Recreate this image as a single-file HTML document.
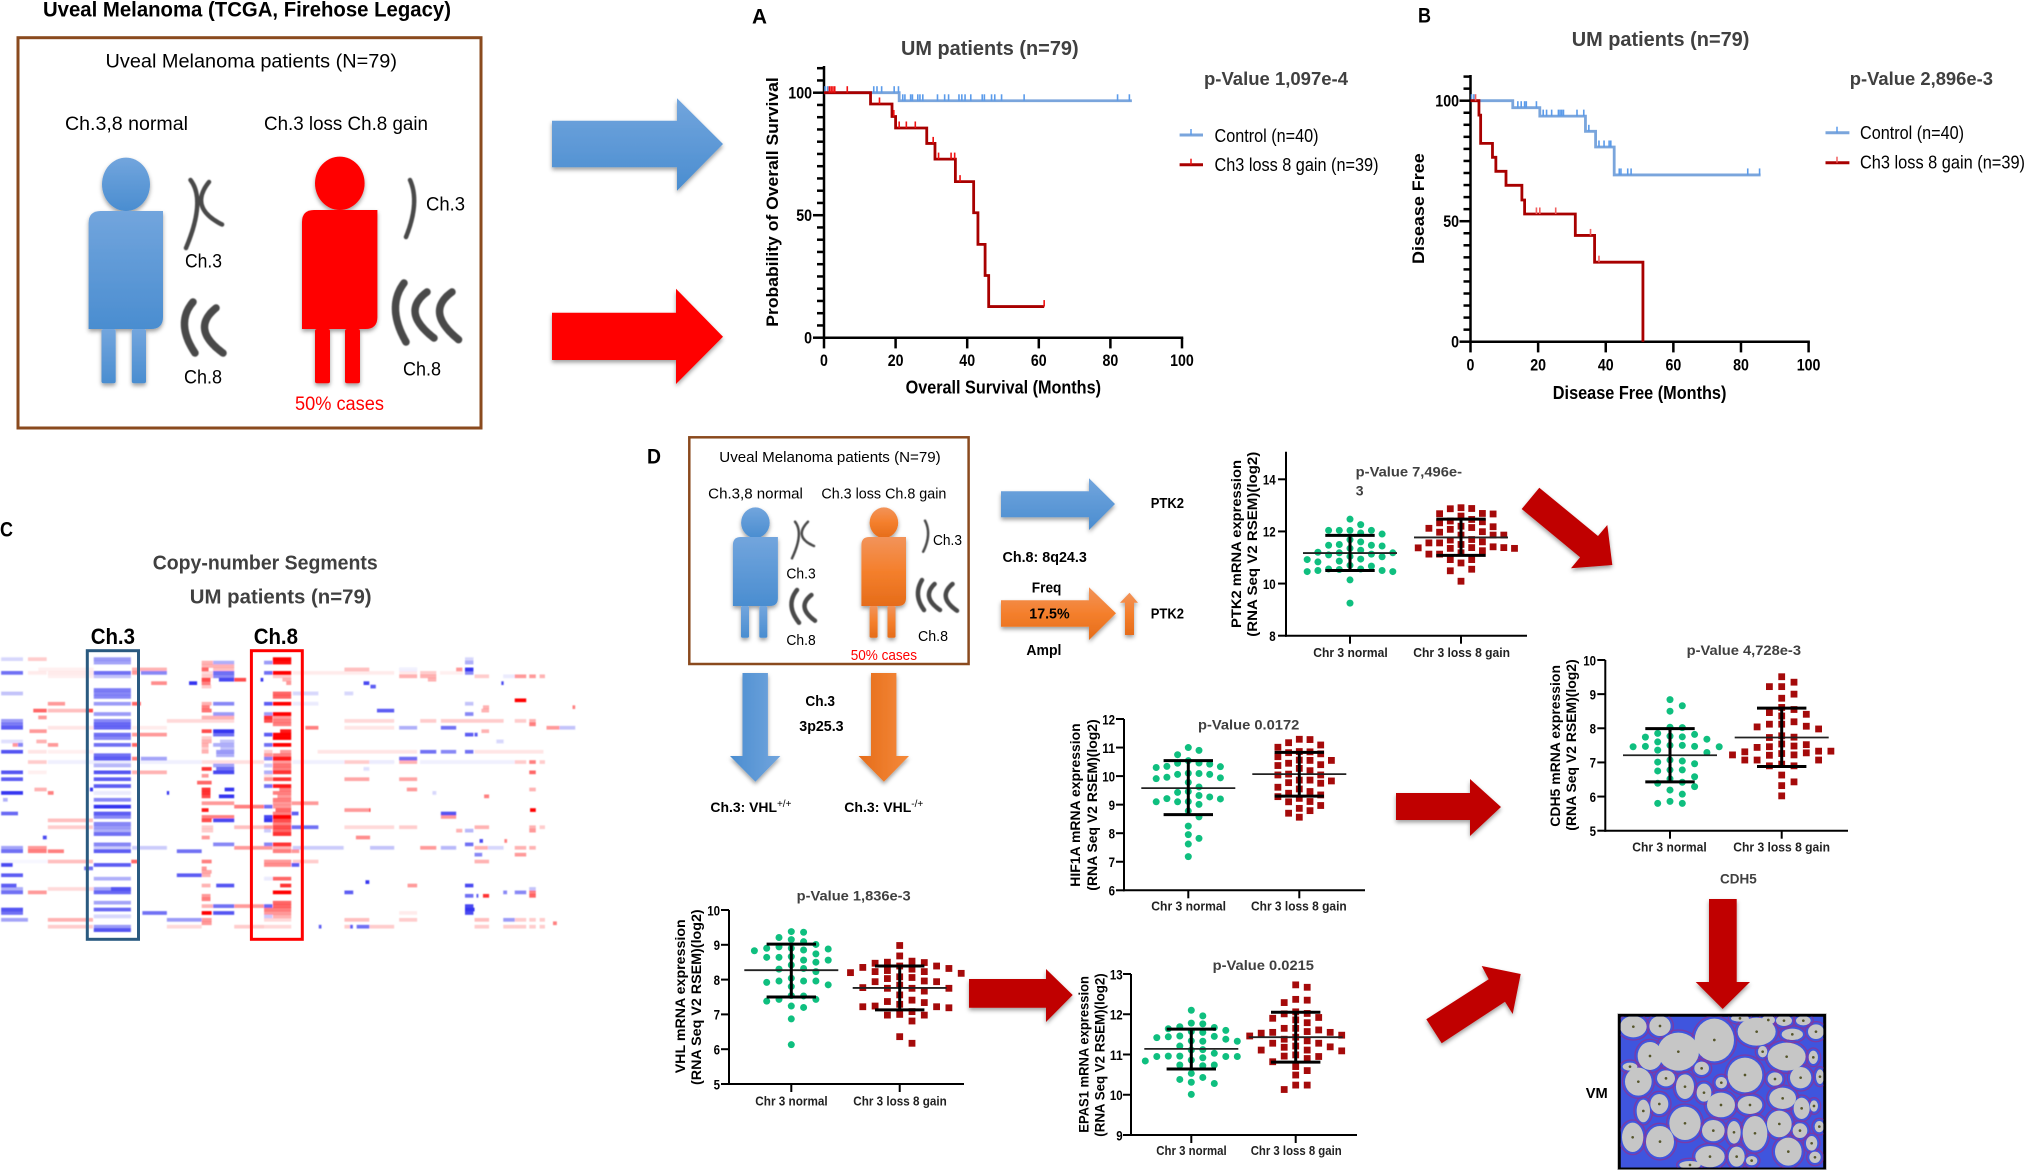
<!DOCTYPE html>
<html lang="en">
<head>
<meta charset="utf-8">
<title>Uveal Melanoma copy-number figure</title>
<style>
html,body{margin:0;padding:0;background:#fff;width:2025px;height:1172px;overflow:hidden}
svg{display:block}
text{font-family:"Liberation Sans",sans-serif}
.b{font-weight:700}
.g{fill:#404040;font-weight:700}
</style>
</head>
<body>
<svg id="figure" xmlns="http://www.w3.org/2000/svg" width="2025" height="1172" viewBox="0 0 2025 1172">
<defs>
<linearGradient id="blueV" x1="0" y1="0" x2="0" y2="1"><stop offset="0" stop-color="#72a5dd"/><stop offset="1" stop-color="#4a8dd0"/></linearGradient>
<linearGradient id="blueH" x1="0" y1="0" x2="1" y2="0"><stop offset="0" stop-color="#4a8dd0"/><stop offset="1" stop-color="#72a5dd"/></linearGradient>
<linearGradient id="orangeV" x1="0" y1="0" x2="0" y2="1"><stop offset="0" stop-color="#f2935a"/><stop offset=".5" stop-color="#f47f2c"/><stop offset="1" stop-color="#e56c1a"/></linearGradient>
<linearGradient id="orangeH" x1="0" y1="0" x2="1" y2="0"><stop offset="0" stop-color="#e56c1a"/><stop offset="1" stop-color="#f58a3a"/></linearGradient>
<filter id="sh" x="-20%" y="-20%" width="140%" height="140%"><feDropShadow dx="0" dy="2.5" stdDeviation="2" flood-color="#000" flood-opacity=".38"/></filter>
<filter id="blur1" x="-10%" y="-10%" width="120%" height="120%"><feGaussianBlur stdDeviation=".6"/></filter>
<filter id="blur2" x="-2%" y="-2%" width="104%" height="104%"><feGaussianBlur stdDeviation=".5"/></filter>
<clipPath id="vmClip"><rect x="182" y="350" width="608" height="453"/></clipPath>
</defs>

<!-- Top-left overview -->
<text class="b" x="43" y="16.7" font-size="21" textLength="408" lengthAdjust="spacingAndGlyphs">Uveal Melanoma (TCGA, Firehose Legacy)</text>
<rect x="18" y="37.7" width="463" height="390.3" fill="#fff" stroke="#8a4a1e" stroke-width="3"/>
<text x="105.5" y="67.3" font-size="19" textLength="291.5" lengthAdjust="spacingAndGlyphs">Uveal Melanoma patients (N=79)</text>
<text x="65" y="130" font-size="19" textLength="123" lengthAdjust="spacingAndGlyphs">Ch.3,8 normal</text>
<text x="264" y="130" font-size="19" textLength="164" lengthAdjust="spacingAndGlyphs">Ch.3 loss Ch.8 gain</text>

<g fill="url(#blueV)" filter="url(#sh)">
<ellipse cx="126" cy="184.3" rx="24" ry="26.7"/>
<path d="M100.6,211H163V317Q163,329 151,329H88.6V223Q88.6,211 100.6,211Z"/>
<rect x="101.5" y="329" width="14.2" height="54.3" rx="2"/>
<rect x="131.8" y="329" width="14.2" height="54.3" rx="2"/>
</g>
<g fill="#ff0000" filter="url(#sh)">
<ellipse cx="339.8" cy="183.3" rx="24.8" ry="26.7"/>
<path d="M314,210H377.4V317Q377.4,329 365.4,329H302V222Q302,210 314,210Z"/>
<rect x="315" y="329" width="15" height="54.3" rx="2"/>
<rect x="345" y="329" width="15" height="54.3" rx="2"/>
</g>
<g fill="none" stroke="#4a4a4a" stroke-dasharray="4 1" stroke-linecap="round" filter="url(#blur1)">
<path stroke-width="4.5" d="M190.5,180Q206,200 186,248M209,182Q188,208 223,225"/>
<path stroke-width="7.5" d="M193,302Q175,323 195,353M216,308Q190,329 223,353"/>
<path stroke-width="4.5" d="M410,180Q420,202 406,237"/>
<path stroke-width="7.5" d="M404,283Q386,307 406,342M427,292Q400,312 434,338M452,292Q424,312 459,340"/>
</g>
<text x="185" y="267.7" font-size="19" textLength="37" lengthAdjust="spacingAndGlyphs">Ch.3</text>
<text x="184" y="383.3" font-size="19" textLength="38" lengthAdjust="spacingAndGlyphs">Ch.8</text>
<text x="426" y="210.7" font-size="19" textLength="39" lengthAdjust="spacingAndGlyphs">Ch.3</text>
<text x="403" y="375.7" font-size="19" textLength="38" lengthAdjust="spacingAndGlyphs">Ch.8</text>
<text x="295" y="410" font-size="19" fill="#ff0000" textLength="89" lengthAdjust="spacingAndGlyphs">50% cases</text>

<path d="M552,120.7H677V98.3L723,144L677,190.7V167.3H552Z" fill="url(#blueV)" filter="url(#sh)"/>
<path d="M552,312.7H676V288.7L723,336.7L676,384V360H552Z" fill="#ff0000" filter="url(#sh)"/>

<!-- Panel A -->
<text class="b" x="752" y="23.3" font-size="21" textLength="15" lengthAdjust="spacingAndGlyphs">A</text>
<text class="g" x="901" y="55" font-size="20" textLength="177.6" lengthAdjust="spacingAndGlyphs">UM patients (n=79)</text>
<text class="g" x="1204" y="85" font-size="18.5" textLength="144" lengthAdjust="spacingAndGlyphs">p-Value 1,097e-4</text>
<text class="b" transform="translate(778,326.7) rotate(-90)" font-size="17" textLength="249.4" lengthAdjust="spacingAndGlyphs">Probability of Overall Survival</text>
<text class="b" x="905.6" y="393.3" font-size="18.5" textLength="195.4" lengthAdjust="spacingAndGlyphs">Overall Survival (Months)</text>
<g>
<line x1="1179.6" x2="1203" y1="135" y2="135" stroke="#7aa5dc" stroke-width="3"/><line x1="1191" x2="1191" y1="129" y2="135" stroke="#5b9bea" stroke-width="1.5"/>
<text x="1214.5" y="142" font-size="18.5" textLength="104" lengthAdjust="spacingAndGlyphs">Control (n=40)</text>
<line x1="1179.6" x2="1203" y1="164.7" y2="164.7" stroke="#a80000" stroke-width="3"/><line x1="1191" x2="1191" y1="158.7" y2="164.7" stroke="#f01010" stroke-width="1.5"/>
<text x="1214.5" y="171" font-size="18.5" textLength="164" lengthAdjust="spacingAndGlyphs">Ch3 loss 8 gain (n=39)</text>
</g>
<g id="panelA"></g>

<!-- Panel B -->
<text class="b" x="1418" y="22.7" font-size="21" textLength="13" lengthAdjust="spacingAndGlyphs">B</text>
<text class="g" x="1571.7" y="46" font-size="20" textLength="177.7" lengthAdjust="spacingAndGlyphs">UM patients (n=79)</text>
<text class="g" x="1849.8" y="85" font-size="18.5" textLength="143.2" lengthAdjust="spacingAndGlyphs">p-Value 2,896e-3</text>
<text class="b" transform="translate(1424,264) rotate(-90)" font-size="17" textLength="110.7" lengthAdjust="spacingAndGlyphs">Disease Free</text>
<text class="b" x="1552.8" y="399" font-size="18.5" textLength="173.6" lengthAdjust="spacingAndGlyphs">Disease Free (Months)</text>
<g>
<line x1="1825.5" x2="1849.4" y1="132.7" y2="132.7" stroke="#7aa5dc" stroke-width="3"/><line x1="1837" x2="1837" y1="126.7" y2="132.7" stroke="#5b9bea" stroke-width="1.5"/>
<text x="1860" y="139" font-size="18.5" textLength="104" lengthAdjust="spacingAndGlyphs">Control (n=40)</text>
<line x1="1825.5" x2="1849.4" y1="162.7" y2="162.7" stroke="#a80000" stroke-width="3"/><line x1="1837" x2="1837" y1="156.7" y2="162.7" stroke="#f06060" stroke-width="1.5"/>
<text x="1860" y="168.7" font-size="18.5" textLength="165" lengthAdjust="spacingAndGlyphs">Ch3 loss 8 gain (n=39)</text>
</g>
<g id="panelB"></g>

<!-- Panel C -->
<text class="b" x="0" y="536.7" font-size="21" textLength="13" lengthAdjust="spacingAndGlyphs">C</text>
<text class="g" x="152.7" y="569.3" font-size="20" textLength="225" lengthAdjust="spacingAndGlyphs">Copy-number Segments</text>
<text class="g" x="189.8" y="603.3" font-size="20" textLength="181.8" lengthAdjust="spacingAndGlyphs">UM patients (n=79)</text>
<text class="b" x="90.7" y="644" font-size="22" textLength="44.3" lengthAdjust="spacingAndGlyphs">Ch.3</text>
<text class="b" x="253.7" y="644" font-size="22" textLength="44.3" lengthAdjust="spacingAndGlyphs">Ch.8</text>
<g id="heatmap" filter="url(#blur2)"></g>
<rect x="87.3" y="650.7" width="51.2" height="288.6" fill="none" stroke="#2a5a80" stroke-width="3"/>
<rect x="251.4" y="650.7" width="50.9" height="288.6" fill="none" stroke="#ff0000" stroke-width="3"/>

<!-- Panel D schematic -->
<text class="b" x="647" y="463.3" font-size="21" textLength="14" lengthAdjust="spacingAndGlyphs">D</text>
<rect x="689.3" y="437.3" width="279.3" height="226.7" fill="#fff" stroke="#8a4a1e" stroke-width="2.5"/>
<text x="719.3" y="462" font-size="14.5" textLength="221.4" lengthAdjust="spacingAndGlyphs">Uveal Melanoma patients (N=79)</text>
<text x="708.2" y="498.3" font-size="14.5" textLength="94.7" lengthAdjust="spacingAndGlyphs">Ch.3,8 normal</text>
<text x="821.4" y="498.3" font-size="14.5" textLength="125" lengthAdjust="spacingAndGlyphs">Ch.3 loss Ch.8 gain</text>
<g fill="url(#blueV)" filter="url(#sh)">
<ellipse cx="755.4" cy="522.7" rx="14.3" ry="15.3"/>
<path d="M740.9,537H777.9V598Q777.9,606 769.9,606H732.9V545Q732.9,537 740.9,537Z"/>
<rect x="741" y="606" width="8" height="31.7" rx="1.5"/><rect x="759.3" y="606" width="8" height="31.7" rx="1.5"/>
</g>
<g fill="url(#orangeV)" filter="url(#sh)">
<ellipse cx="883.9" cy="522.7" rx="14.3" ry="15.3"/>
<path d="M869.4,537H906V598Q906,606 898,606H861.4V545Q861.4,537 869.4,537Z"/>
<rect x="869.6" y="606" width="8" height="31.7" rx="1.5"/><rect x="887.5" y="606" width="8" height="31.7" rx="1.5"/>
</g>
<g fill="none" stroke="#4a4a4a" stroke-linecap="round" stroke-dasharray="3 .8" filter="url(#blur1)">
<path stroke-width="2.5" d="M795,521.7Q804,533 792,558.3M808,521.7Q793,537 814,546"/>
<path stroke-width="4.5" d="M797,590Q785,605 799,622.7M811.4,595Q796,607 815,620.7"/>
<path stroke-width="2.5" d="M925,520.7Q932,534 923.2,551.7"/>
<path stroke-width="4.5" d="M922,580Q913,595 924,610M934.6,584Q921,597 940,610M952.5,584Q937,597 957,610.7"/>
</g>
<text x="786.4" y="578.3" font-size="14.5" textLength="29.3" lengthAdjust="spacingAndGlyphs">Ch.3</text>
<text x="786.4" y="645" font-size="14.5" textLength="29.3" lengthAdjust="spacingAndGlyphs">Ch.8</text>
<text x="933" y="545" font-size="14.5" textLength="29" lengthAdjust="spacingAndGlyphs">Ch.3</text>
<text x="918" y="641" font-size="14.5" textLength="30" lengthAdjust="spacingAndGlyphs">Ch.8</text>
<text x="850.7" y="660" font-size="14.5" fill="#ff0000" textLength="66.3" lengthAdjust="spacingAndGlyphs">50% cases</text>

<path d="M1001,491.3H1089V478.3L1115,504L1089,530V517.3H1001Z" fill="url(#blueV)" filter="url(#sh)"/>
<text class="b" x="1150.7" y="508" font-size="14.5" textLength="33.3" lengthAdjust="spacingAndGlyphs">PTK2</text>
<text class="b" x="1002.5" y="562" font-size="14.5" textLength="84.3" lengthAdjust="spacingAndGlyphs">Ch.8: 8q24.3</text>
<text class="b" x="1031.8" y="592.7" font-size="14.5" textLength="29.6" lengthAdjust="spacingAndGlyphs">Freq</text>
<path d="M1001,600.3H1089V587.3L1116,613.3L1089,640V626.7H1001Z" fill="url(#orangeV)" filter="url(#sh)"/>
<text class="b" x="1029.3" y="618.3" font-size="14.5" textLength="40.3" lengthAdjust="spacingAndGlyphs">17.5%</text>
<text class="b" x="1026.4" y="655" font-size="14.5" textLength="35" lengthAdjust="spacingAndGlyphs">Ampl</text>
<path d="M1125,635V602.7H1120L1129.5,592.7L1138,602.7H1134V635Z" fill="url(#orangeV)" filter="url(#sh)"/>
<text class="b" x="1150.7" y="618.7" font-size="14.5" textLength="33.3" lengthAdjust="spacingAndGlyphs">PTK2</text>

<path d="M742.5,673H767.9V756H780.4L755.4,781.7L730,756H742.5Z" fill="url(#blueH)" filter="url(#sh)"/>
<path d="M871,673H896.4V756H909L883.9,781.7L858.6,756H871Z" fill="url(#orangeH)" filter="url(#sh)"/>
<text class="b" x="805.4" y="706" font-size="14.5" textLength="29.6" lengthAdjust="spacingAndGlyphs">Ch.3</text>
<text class="b" x="799.3" y="731" font-size="14.5" textLength="44.3" lengthAdjust="spacingAndGlyphs">3p25.3</text>
<text class="b" x="710.4" y="812" font-size="14" textLength="81" lengthAdjust="spacingAndGlyphs">Ch.3: VHL<tspan dy="-5" font-size="10" font-weight="400">+/+</tspan></text>
<text class="b" x="844.3" y="812" font-size="14" textLength="79" lengthAdjust="spacingAndGlyphs">Ch.3: VHL<tspan dy="-5" font-size="10" font-weight="400">-/+</tspan></text>

<!-- Dark red flow arrows -->
<g fill="#c00000" filter="url(#sh)">
<path d="M1539.3,487.7L1598,536L1607.3,525L1612.3,565L1571,568.3L1580.1,557.2L1521.7,509Z"/>
<path d="M1396,793H1470V779L1501,807L1470,836V820H1396Z"/>
<path d="M969,979H1046V969L1072.7,995L1046,1022V1007.7H969Z"/>
<path d="M1426.3,1019.3L1488.7,979.3L1481.7,966L1520.7,974L1512.7,1014L1505,1001.7L1441.7,1043.3Z"/>
<path d="M1709,899H1736.7V982H1750L1722.7,1009L1695.7,982H1709Z"/>
</g>

<!-- Scatter panels -->
<g id="scatterPtk2"></g>
<g id="scatterCdh5"></g>
<g id="scatterHif1a"></g>
<g id="scatterVhl"></g>
<g id="scatterEpas1"></g>

<text class="g" x="1355.7" y="476.7" font-size="14" textLength="106.3" lengthAdjust="spacingAndGlyphs">p-Value 7,496e-</text>
<text class="g" x="1355.7" y="495.7" font-size="14">3</text>
<text class="g" x="1686.7" y="655" font-size="14" textLength="114.3" lengthAdjust="spacingAndGlyphs">p-Value 4,728e-3</text>
<text class="g" x="1720" y="883.3" font-size="14" textLength="36.7" lengthAdjust="spacingAndGlyphs">CDH5</text>
<text class="g" x="1198" y="729.3" font-size="14" textLength="101.3" lengthAdjust="spacingAndGlyphs">p-Value 0.0172</text>
<text class="g" x="796.7" y="900.7" font-size="14" textLength="114" lengthAdjust="spacingAndGlyphs">p-Value 1,836e-3</text>
<text class="g" x="1212.7" y="970" font-size="14" textLength="101.3" lengthAdjust="spacingAndGlyphs">p-Value 0.0215</text>

<!-- VM image -->
<text class="b" x="1585.7" y="1098" font-size="15" textLength="22" lengthAdjust="spacingAndGlyphs">VM</text>
<g transform="translate(1560,900) scale(.3333)">
<rect x="173" y="341" width="626" height="468" fill="#000" stroke="#aaa" stroke-width="2"/>
<g clip-path="url(#vmClip)">
<rect x="182" y="350" width="608" height="453" fill="#3f55de"/>
<g id="vmCells"></g>
</g>
</g>
</svg>

<script>
// ----- Survival data (months / % surviving) -----
const osControlMonths = [0, 21, 86];
const osControlSurvival = [100, 96.7, 96.7];
const osControlCensored = [0.3, 1, 13.9, 14.8, 16.1, 19.6, 20.8, 22, 22.6, 24.2, 24.7, 26.2, 26.8, 27.6, 31.7, 33.7, 34.8, 37.7, 38.5, 39.4, 41, 44.2, 44.8, 46.8, 47.7, 49.6, 55.9, 82, 85.3];
const osGainMonths = [0, 13, 19, 20, 28.7, 31, 36.7, 41.8, 43, 45, 46, 61.5];
const osGainSurvival = [100, 95.4, 90.3, 85.6, 79.3, 72.9, 63.7, 51, 38.1, 25.4, 12.7, 12.7];
const osGainCensored = [1.5, 2, 2.5, 3, 6.5, 15.5, 19.5, 21, 23, 25.5, 30.5, 32, 35.5, 36.5, 38, 61.5];
const dfControlMonths = [0, 12.5, 20.5, 34, 37, 42.5, 85.8];
const dfControlSurvival = [100, 97.1, 93.6, 87.3, 80.8, 69.2, 69.2];
const dfControlCensored = [0.3, 1, 14, 15, 16, 16.5, 19.5, 21.5, 22.5, 24, 26, 26.5, 27, 27.5, 31.5, 33.5, 35, 38, 39.5, 41, 41.5, 44, 44.5, 46.5, 47.5, 82, 85.5];
const dfGainMonths = [0, 2.5, 3, 6.5, 7.5, 10.5, 15.2, 16, 31, 36.7, 51];
const dfGainSurvival = [100, 94, 82.3, 76.5, 70.7, 64.9, 58.8, 53, 44.1, 33, 0];
const dfGainCensored = [1.5, 19.5, 20.5, 25.2, 35.5, 38];
const survivalXTicks = [0, 20, 40, 60, 80, 100];
const survivalYMajorTicks = [0, 50, 100];
const survivalYMinorTicks = [5, 10, 15, 20, 25, 30, 35, 40, 45, 55, 60, 65, 70, 75, 80, 85, 90, 95, 105, 110];

// ----- Expression data (log2 RSEM) -----
const ptk2Normal = [12.47, 12.26, 12.04, 12.04, 12.04, 12.04, 11.94, 11.9, 11.68, 11.6, 11.5, 11.47, 11.47, 11.44, 11.35, 11.28, 11.2, 11.18, 11.18, 11.13, 11.1, 11.04, 11.03, 10.94, 10.92, 10.86, 10.83, 10.7, 10.67, 10.56, 10.56, 10.54, 10.5, 10.5, 10.46, 10.46, 10.14, 9.25];
const ptk2Gain = [12.91, 12.88, 12.87, 12.69, 12.68, 12.67, 12.59, 12.46, 12.4, 12.37, 12.33, 12.2, 12.18, 12.15, 12.12, 12.08, 11.99, 11.97, 11.86, 11.86, 11.86, 11.69, 11.67, 11.6, 11.56, 11.56, 11.5, 11.41, 11.38, 11.38, 11.37, 11.35, 11.35, 11.26, 11.18, 11.13, 11.13, 10.92, 10.92, 10.79, 10.55, 10.49, 10.09];
const cdh5Normal = [8.84, 8.66, 8.5, 8.03, 8.02, 7.85, 7.82, 7.77, 7.75, 7.74, 7.68, 7.6, 7.5, 7.5, 7.47, 7.47, 7.46, 7.46, 7.36, 7.29, 7.07, 7.04, 7.01, 6.96, 6.78, 6.78, 6.75, 6.58, 6.52, 6.42, 6.39, 6.29, 6.19, 6.07, 5.86, 5.8, 5.8];
const cdh5Gain = [9.51, 9.35, 9.22, 9.22, 9.0, 8.88, 8.61, 8.55, 8.46, 8.41, 8.36, 8.19, 8.12, 8.12, 8.06, 8.04, 7.98, 7.78, 7.74, 7.73, 7.54, 7.52, 7.48, 7.46, 7.44, 7.33, 7.31, 7.33, 7.26, 7.28, 7.22, 7.21, 7.22, 7.07, 7.07, 7.07, 6.95, 6.9, 6.9, 6.63, 6.43, 6.32, 6.02];
const hif1aNormal = [11.0, 10.9, 10.75, 10.54, 10.46, 10.45, 10.42, 10.34, 10.33, 10.3, 10.1, 10.09, 10.06, 10.06, 9.96, 9.94, 9.91, 9.78, 9.62, 9.46, 9.43, 9.32, 9.27, 9.21, 9.2, 9.11, 9.1, 9.1, 9.01, 8.78, 8.57, 8.25, 7.95, 7.82, 7.62, 7.18];
const hif1aGain = [11.29, 11.28, 11.17, 11.09, 11.01, 10.86, 10.85, 10.82, 10.78, 10.68, 10.56, 10.55, 10.55, 10.45, 10.4, 10.37, 10.27, 10.19, 10.07, 10.04, 10.04, 9.86, 9.86, 9.83, 9.77, 9.75, 9.61, 9.55, 9.46, 9.4, 9.34, 9.28, 9.22, 9.11, 9.1, 8.97, 8.87, 8.79, 8.7, 8.56];
const vhlNormal = [9.38, 9.36, 9.21, 9.15, 9.09, 9.01, 8.94, 8.9, 8.9, 8.88, 8.85, 8.83, 8.74, 8.66, 8.64, 8.64, 8.56, 8.56, 8.5, 8.42, 8.32, 8.3, 8.23, 8.04, 7.96, 7.96, 7.96, 7.92, 7.85, 7.8, 7.54, 7.53, 7.43, 7.43, 7.38, 7.24, 7.2, 6.87, 6.13];
const vhlGain = [8.98, 8.68, 8.53, 8.5, 8.49, 8.47, 8.39, 8.39, 8.35, 8.32, 8.3, 8.26, 8.23, 8.23, 8.2, 8.18, 8.08, 8.06, 8.03, 7.96, 7.94, 7.94, 7.84, 7.75, 7.75, 7.77, 7.75, 7.67, 7.56, 7.41, 7.37, 7.34, 7.29, 7.24, 7.22, 7.22, 7.19, 7.08, 7.0, 6.98, 6.98, 6.81, 6.36, 6.17];
const epas1Normal = [12.1, 11.96, 11.78, 11.76, 11.69, 11.67, 11.64, 11.6, 11.57, 11.55, 11.46, 11.45, 11.44, 11.42, 11.38, 11.34, 11.33, 11.33, 11.21, 11.11, 11.12, 11.03, 10.96, 10.96, 10.95, 10.95, 10.95, 10.92, 10.86, 10.84, 10.74, 10.72, 10.74, 10.53, 10.43, 10.38, 10.31, 10.28, 10.01];
const epas1Gain = [12.73, 12.67, 12.37, 12.35, 12.29, 12.06, 12.02, 12.01, 11.92, 11.9, 11.86, 11.79, 11.65, 11.65, 11.61, 11.57, 11.55, 11.55, 11.53, 11.48, 11.46, 11.43, 11.38, 11.34, 11.28, 11.28, 11.21, 11.19, 11.18, 11.11, 11.11, 11.09, 10.99, 10.96, 10.95, 10.9, 10.82, 10.7, 10.6, 10.49, 10.24, 10.24, 10.13];

const ptk2Ticks = [8, 10, 12, 14];
const cdh5Ticks = [5, 6, 7, 8, 9, 10];
const hif1aTicks = [6, 7, 8, 9, 10, 11, 12];
const vhlTicks = [5, 6, 7, 8, 9, 10];
const epas1Ticks = [9, 10, 11, 12, 13];
const scatterCategories = ['Chr 3 normal', 'Chr 3 loss 8 gain'];
// mean, mean+SD, mean-SD for normal then gain
const ptk2Summary = [[11.17, 11.85, 10.5], [11.77, 12.47, 11.08]];
const cdh5Summary = [[7.21, 7.99, 6.43], [7.73, 8.59, 6.88]];
const hif1aSummary = [[9.58, 10.54, 8.65], [10.07, 10.83, 9.3]];
const vhlSummary = [[8.27, 9.02, 7.5], [7.76, 8.39, 7.13]];
const epas1Summary = [[11.14, 11.63, 10.64], [11.43, 12.05, 10.81]];

// ----- Copy-number segments: index = patient row; each entry [startGenome, endGenome, logRatio] -----
const copyNumberRows = [
[[3,60,-.2],[73,122,.2],[245,342,-.5],[713,761,1],[1215,1237,-.2]],
[[245,342,-.45],[527,557,.3],[557,612,-.4],[690,712,-.5],[713,761,.95],[1215,1237,-.4]],
[[527,612,.3]],
[[100,245,.06],[345,436,.3],[527,545,.6],[557,612,.25],[900,965,.25],[1043,1090,-.08],[1192,1208,.4],[1215,1237,-1]],
[[3,60,-.7],[73,122,.08],[125,245,.08],[245,342,-.7],[345,360,.4],[368,436,-.6],[527,557,.15],[557,612,-.7],[690,712,-.7],[713,761,1],[765,1030,.08],[1043,1090,.08],[1098,1140,.2],[1150,1210,.06],[1215,1237,-.6]],
[[125,245,.06],[245,342,-.3],[527,557,.2],[557,612,-.6],[713,761,.2],[1043,1090,.3],[1098,1140,.3],[1240,1278,.2],[1315,1345,-.1],[1345,1375,.4],[1383,1400,.4],[1410,1424,.3]],
[[527,550,.7],[572,612,-.9],[612,643,.7],[681,688,-1],[738,761,.3],[1118,1140,.3]],
[[395,436,.45],[494,515,-1],[527,550,.5],[748,761,.4],[950,965,-.9],[1310,1316,-.9]],
[[527,552,.2],[968,982,-.8]],
[[245,342,-.65]],
[[3,60,-.3],[245,342,-.6],[713,761,.6],[765,832,-.2],[900,923,-.2]],
[[245,342,-.6],[713,761,.6]],
[[1345,1375,1]],
[[125,170,.4],[245,342,-.5],[345,368,.6],[527,553,.3],[557,612,-.6],[690,712,-.8],[713,761,1],[765,832,-.1],[1215,1237,-.3]],
[[527,548,.5],[1262,1278,.3],[1496,1503,.5]],
[[87,122,.6],[125,225,.25],[225,243,.7],[527,553,.55],[985,1030,-.8],[1258,1278,.3]],
[[245,342,-.5],[557,612,-.5],[690,712,-.5],[713,761,1],[1215,1237,-.6]],
[[100,122,.4],[527,612,.3],[690,712,.8],[713,761,.4]],
[[3,60,-.5],[245,342,-.6],[436,612,.15],[690,712,.7],[713,761,.5],[900,1030,.15],[1098,1140,.2],[1152,1316,.2],[1345,1375,.2],[1383,1400,.3]],
[[3,60,-.65],[245,342,-.75],[713,761,.5],[1383,1400,.5]],
[[3,60,-.8],[125,245,.1],[245,342,-.75],[345,436,.08],[798,832,.5],[900,1030,.1],[1043,1090,-.4],[1152,1192,-.7],[1428,1462,.4],[1462,1503,-.3]],
[[77,122,.4],[527,553,.7],[557,612,-1],[732,761,.9],[1258,1278,.3]],
[[245,342,-.7],[345,436,.4],[557,612,-.7],[690,712,-.8],[713,761,1],[1215,1237,-.8],[1240,1248,-.8]],
[[245,342,-.6],[527,553,.2],[713,761,1]],
[[3,60,-.15],[95,122,.3],[527,553,.3],[575,612,-.3],[1297,1316,-.2]],
[[33,47,.4],[47,60,-.6],[125,152,.4],[245,342,-.7],[345,360,.6],[527,545,.3],[557,612,-.4],[690,712,-.7],[713,761,1]],
[[527,545,.2],[576,612,-.3]],
[[3,60,-.85],[73,122,.1],[125,245,.06],[527,545,.3],[565,612,-.5],[690,712,.2],[732,761,.4],[830,1090,.1],[1098,1140,-.7],[1152,1192,-.6],[1215,1237,-.7],[1240,1420,.1]],
[[245,342,-.7],[565,612,-.4],[690,712,.4],[713,761,.5]],
[[245,342,-.8],[345,360,.5],[368,436,-.45],[690,712,-.6],[713,761,.9],[1043,1090,-.7]],
[[73,122,.2],[125,245,-.08],[245,342,-.1],[360,527,-.08],[527,690,.12],[713,761,.4],[765,900,-.08],[900,965,.2],[965,1030,-.1],[1043,1090,.3],[1098,1345,-.08],[1345,1375,.2],[1383,1400,.5],[1410,1424,.2]],
[[245,342,-.35],[557,612,-.45],[690,712,-.25],[713,761,.55]],
[[527,553,.8],[565,612,-.7],[713,761,.5],[950,965,-.15]],
[[3,60,-.85],[73,122,.06],[245,342,-.85],[345,436,.3],[557,612,-.9],[690,712,-.4],[713,761,.8],[1383,1400,.6]],
[[527,545,.4],[690,712,.1]],
[[3,60,-.8],[245,342,-.8],[690,712,.4],[713,761,.8],[900,965,.35],[1043,1090,.35]],
[[515,553,.6]],
[[245,342,-.8],[690,712,-.7],[713,761,.9]],
[[90,122,.3],[235,243,-1],[527,550,.8],[587,612,-1],[730,761,.5],[1063,1090,.4],[1383,1400,.3]],
[[3,60,-1],[125,140,.5],[245,342,-.1],[436,442,-1],[527,550,.8],[713,761,.5],[1130,1140,-.2]],
[[527,550,.7],[572,612,-1],[725,761,.4],[1265,1278,.5]],
[[8,20,-.4],[245,342,-.6],[713,761,.5]],
[[527,612,.4],[713,761,.4],[762,832,.4]],
[[245,342,-1],[612,690,.5],[690,712,-.7],[713,761,.4]],
[[527,545,.9],[720,761,.6],[900,965,.4],[965,968,.8],[1385,1400,1]],
[[3,47,-.75],[245,342,-.8],[713,761,.5],[762,780,-.8],[1152,1192,-.85]],
[[245,342,-.6],[527,612,.5],[690,712,-.9],[713,761,1],[1152,1192,.4]],
[[125,243,.25],[527,553,.7],[557,612,-.9],[690,712,-1],[713,761,.7]],
[[245,342,-.6],[713,761,.5]],
[[125,243,.2],[245,342,-.5],[527,557,.2],[612,690,.25],[690,712,.4],[713,761,.7],[762,832,-.7],[900,1030,.15],[1043,1090,.2],[1240,1278,.3],[1383,1400,.3],[1410,1424,.2]],
[[245,342,-.4],[527,557,.2],[690,708,-.25],[713,761,.6],[1192,1208,.3],[1215,1237,-.35],[1383,1400,.4]],
[[245,342,-.7],[713,761,.8]],
[[112,122,-.9],[527,548,.4],[930,967,.45]],
[[1253,1262,-.9],[1318,1325,.5]],
[[245,342,-.6],[557,612,-.6],[690,712,-.6],[713,761,.8],[1215,1237,-.7]],
[[3,60,-.45],[73,122,.4],[245,342,-.25],[345,436,-.25],[612,690,.4],[690,712,.4],[713,761,.3],[765,898,-.25],[967,1030,-.3],[1098,1140,.4],[1152,1192,-.35],[1240,1275,.3],[1275,1316,-.2],[1345,1375,.3],[1383,1400,.3]],
[[3,60,-.7],[73,122,.5],[125,167,.5],[245,342,-.8],[462,527,-.7],[713,761,.5],[762,782,.4]],
[[1240,1260,-.6],[1345,1375,.4]],
[],
[[0,125,-.03],[125,243,.25],[343,360,.6],[527,553,.5],[690,761,.4],[765,832,.2],[1240,1278,.3]],
[[3,33,-.9],[245,342,-.8],[690,761,.45],[762,782,-.8]],
[[220,243,-.7],[527,540,.4]],
[[527,553,.35]],
[[3,60,-.8],[462,527,-.8],[527,550,.3]],
[[245,342,-.4],[690,712,-.1],[713,761,.6]],
[[955,965,-1]],
[[3,43,-.8],[527,550,.3],[565,612,-.85],[732,761,.8],[1065,1090,.4],[1215,1237,-.9]],
[[3,60,-.4],[125,245,.15],[245,342,-.45],[290,342,-.7],[1383,1400,-.3]],
[[3,60,-.7],[73,122,.4],[245,342,-.75],[713,761,1],[900,923,-.8],[1315,1325,-.6],[1345,1375,-.6],[1383,1400,.5]],
[[527,550,.4],[1215,1237,-.7],[1245,1250,-.8],[1262,1278,.8],[1383,1400,.6]],
[[527,550,.5]],
[[245,342,-.45],[713,761,.6]],
[[527,557,.3],[557,612,-.7],[612,690,.4],[690,712,-.75],[713,761,.6],[1215,1237,-.9]],
[[3,60,-.85],[245,342,-.75],[690,761,.5],[1215,1240,-1]],
[[3,60,-.7],[372,436,-.7],[527,553,1],[557,612,-.85],[690,761,.4],[1043,1090,.08],[1215,1237,-.9]],
[[245,342,-.2],[690,712,-.25],[713,761,.3]],
[[3,73,-.45],[125,243,.3],[436,527,-.5],[527,553,.4],[690,761,.15],[900,965,.25],[1043,1090,.2],[1240,1278,.25],[1315,1345,-.5],[1345,1375,.2],[1383,1400,.2],[1410,1424,.2]],
[[527,553,.4],[1445,1455,.5]],
[[125,243,.2],[245,342,-.5],[436,527,.15],[612,690,.2],[690,761,.15],[833,840,-.8],[900,915,.2],[915,922,-.8],[932,965,-.7],[965,1030,.2],[1240,1278,.2],[1315,1345,.2],[1345,1375,.2],[1383,1400,.2],[1410,1424,.2]],
[[245,342,-.85]]
];

const SVGNS = 'http://www.w3.org/2000/svg';
function mk(parent, tag, attrs, txt) {
  const el = document.createElementNS(SVGNS, tag);
  for (const k in attrs) el.setAttribute(k, attrs[k]);
  if (txt !== undefined) el.textContent = txt;
  parent.appendChild(el);
  return el;
}

// ----- Heatmap -----
(function () {
  const g = document.getElementById('heatmap');
  const gx = p => p / 2.613;
  const gy = r => 659 + r * 3.43 - 1.7;
  copyNumberRows.forEach((row, r) => {
    row.forEach(seg => {
      const rect = mk(g, 'rect', {
        x: gx(seg[0]), y: gy(r), width: gx(seg[1]) - gx(seg[0]), height: 3.7,
        fill: seg[2] < 0 ? '#3535f0' : '#ff0000', opacity: Math.abs(seg[2])
      });
      
      
    });
  });
})();

// ----- Kaplan-Meier charts -----
function survivalAt(months, surv, t) {
  let s = surv[0];
  for (let i = 0; i < months.length; i++) if (months[i] <= t) s = surv[i];
  return s;
}
function drawSurvival(id, ox, x100, y0, y100, top, labelBase, labelRight, series) {
  const g = document.getElementById(id);
  const X = v => ox + v * (x100 - ox) / 100;
  const Y = v => y0 + v * (y100 - y0) / 100;
  survivalYMinorTicks.forEach(v => {
    const t = mk(g, 'line', { x1: ox - 7, x2: ox, y1: Y(v), y2: Y(v), stroke: '#000', 'stroke-width': 2.5 });
    
    
  });
  survivalYMajorTicks.forEach(v => {
    const t = mk(g, 'line', { x1: ox - 11, x2: ox, y1: Y(v), y2: Y(v), stroke: '#000', 'stroke-width': 2.5 });
    
    
    const s = String(v);
    const l = mk(g, 'text', { x: labelRight, y: Y(v) + 6, 'font-size': 17, 'font-weight': 700, 'text-anchor': 'end', textLength: 7.9 * s.length, lengthAdjust: 'spacingAndGlyphs' }, s);
    
    
  });
  survivalXTicks.forEach(v => {
    const t = mk(g, 'line', { x1: X(v), x2: X(v), y1: y0, y2: y0 + 10.7, stroke: '#000', 'stroke-width': 2.5 });
    
    
    const s = String(v);
    const l = mk(g, 'text', { x: X(v), y: labelBase, 'font-size': 17, 'font-weight': 700, 'text-anchor': 'middle', textLength: 7.9 * s.length, lengthAdjust: 'spacingAndGlyphs' }, s);
    
    
  });
  const yAxis = mk(g, 'line', { x1: ox, x2: ox, y1: top, y2: y0 + 1.25, stroke: '#000', 'stroke-width': 2.5 });
  
  
  const xAxis = mk(g, 'line', { x1: ox - 1, x2: x100 + 1.25, y1: y0, y2: y0, stroke: '#000', 'stroke-width': 2.5 });
  
  
  series.forEach(sr => {
    let d = '';
    sr.months.forEach((m, i) => {
      if (i === 0) d = 'M' + X(m) + ',' + Y(sr.surv[0]);
      else d += 'H' + X(m) + 'V' + Y(sr.surv[i]);
    });
    const line = mk(g, 'path', { d: d, fill: 'none', stroke: sr.color, 'stroke-width': 2.8 });
    
    
    sr.cens.forEach(t => {
      const yy = Y(survivalAt(sr.months, sr.surv, t));
      const c = mk(g, 'line', { x1: X(t), x2: X(t), y1: yy - 6.5, y2: yy, stroke: sr.tick, 'stroke-width': 1.6 });
      
      
    });
  });
}
drawSurvival('panelA', 824, 1182, 337.7, 92.7, 66, 366, 812, [
  { name: 'control', months: osControlMonths, surv: osControlSurvival, cens: osControlCensored, color: '#7aa5dc', tick: '#5b9bea' },
  { name: 'ch3-loss-8-gain', months: osGainMonths, surv: osGainSurvival, cens: osGainCensored, color: '#a80000', tick: '#f01010' }
]);
drawSurvival('panelB', 1470.5, 1808.6, 341.7, 100.7, 75, 370.7, 1459, [
  { name: 'control', months: dfControlMonths, surv: dfControlSurvival, cens: dfControlCensored, color: '#7aa5dc', tick: '#5b9bea' },
  { name: 'ch3-loss-8-gain', months: dfGainMonths, surv: dfGainSurvival, cens: dfGainCensored, color: '#a80000', tick: '#f06060' }
]);

// ----- Scatter charts -----
function swarmSlots(values, Y, gap) {
  const placed = {};
  return values.map(v => {
    const py = Y(v);
    for (let k = 0; k < 12; k++) {
      const slot = k === 0 ? 0 : (k % 2 ? (k + 1) / 2 : -k / 2);
      const col = placed[slot] || (placed[slot] = []);
      if (col.every(o => Math.abs(o - py) >= gap)) {
        col.push(py);
        return slot;
      }
    }
    return 0;
  });
}
function drawScatter(c) {
  const g = document.getElementById(c.id);
  const Y = v => c.y0 + (v - c.ticks[0]) * (c.yMaxPx - c.y0) / (c.ticks[c.ticks.length - 1] - c.ticks[0]);
  const yAxis = mk(g, 'line', { x1: c.ox, x2: c.ox, y1: c.top, y2: c.y0 + 1, stroke: '#000', 'stroke-width': 2 });
  
  
  const xAxis = mk(g, 'line', { x1: c.ox - 1, x2: c.xEnd, y1: c.y0, y2: c.y0, stroke: '#000', 'stroke-width': 2 });
  
  
  c.ticks.forEach(v => {
    const t = mk(g, 'line', { x1: c.ox - 8, x2: c.ox, y1: Y(v), y2: Y(v), stroke: '#000', 'stroke-width': 2 });
    
    
    const s = String(v);
    const l = mk(g, 'text', { x: c.labelRight, y: Y(v) + 5.3, 'font-size': 14, 'font-weight': 700, 'text-anchor': 'end', textLength: 6.4 * s.length, lengthAdjust: 'spacingAndGlyphs' }, s);
    
    
  });
  c.centers.forEach((cx, i) => {
    const t = mk(g, 'line', { x1: cx, x2: cx, y1: c.y0, y2: c.y0 + 8, stroke: '#000', 'stroke-width': 2 });
    
    
    const l = mk(g, 'text', { x: c.catX[i], y: c.catBase, 'font-size': 12.5, 'font-weight': 700, textLength: c.catW[i], lengthAdjust: 'spacingAndGlyphs', fill: '#222' }, scatterCategories[i]);
    
    
    const vals = c.series[i];
    const slots = swarmSlots(vals, Y, c.gap);
    vals.forEach((v, j) => {
      const px = cx + slots[j] * c.step;
      const py = Y(v);
      let m;
      if (i === 0) m = mk(g, 'circle', { cx: px, cy: py, r: 3.5, fill: '#0fbf7f' });
      else m = mk(g, 'rect', { x: px - 3.4, y: py - 3.4, width: 6.8, height: 6.8, fill: '#a50a0a' });
      
      
    });
    const s = c.summary[i];
    const mean = mk(g, 'line', { x1: cx - 47, x2: cx + 47, y1: Y(s[0]), y2: Y(s[0]), stroke: '#222', 'stroke-width': 1.8 });
    
    
    const bar = mk(g, 'line', { x1: cx, x2: cx, y1: Y(s[1]), y2: Y(s[2]), stroke: '#000', 'stroke-width': 3 });
    
    
    [s[1], s[2]].forEach(e => {
      const cap = mk(g, 'line', { x1: cx - 24.7, x2: cx + 24.7, y1: Y(e), y2: Y(e), stroke: '#000', 'stroke-width': 3 });
      
      
    });
  });
  const t1 = mk(g, 'text', { transform: 'translate(' + c.t1x + ',' + c.t1b + ') rotate(-90)', 'font-size': 13.5, 'font-weight': 700, textLength: c.t1w, lengthAdjust: 'spacingAndGlyphs' }, c.gene + ' mRNA expression');
  
  
  const t2 = mk(g, 'text', { transform: 'translate(' + c.t2x + ',' + c.t2b + ') rotate(-90)', 'font-size': 13.5, 'font-weight': 700, textLength: c.t2w, lengthAdjust: 'spacingAndGlyphs' }, '(RNA Seq V2 RSEM)(log2)');
  
  
}
drawScatter({ id: 'scatterPtk2', gene: 'PTK2', ticks: ptk2Ticks, series: [ptk2Normal, ptk2Gain], summary: ptk2Summary,
  ox: 1286, y0: 635.7, yMaxPx: 479.3, top: 451.7, xEnd: 1527, centers: [1350, 1461], labelRight: 1275.7, catX: [1313.3, 1413.3], catW: [74.4, 96.7], catBase: 657,
  step: 10.7, gap: 8, t1x: 1241, t1b: 628, t1w: 168, t2x: 1257, t2b: 636.7, t2w: 185 });
drawScatter({ id: 'scatterCdh5', gene: 'CDH5', ticks: cdh5Ticks, series: [cdh5Normal, cdh5Gain], summary: cdh5Summary,
  ox: 1605.3, y0: 830.7, yMaxPx: 660, top: 660, xEnd: 1848, centers: [1670, 1781.7], labelRight: 1596, catX: [1632.3, 1733.3], catW: [74.4, 96.7], catBase: 851.7,
  step: 12.3, gap: 8, t1x: 1560, t1b: 826.7, t1w: 161.7, t2x: 1576, t2b: 830.7, t2w: 171.4 });
drawScatter({ id: 'scatterHif1a', gene: 'HIF1A', ticks: hif1aTicks, series: [hif1aNormal, hif1aGain], summary: hif1aSummary,
  ox: 1124, y0: 890.3, yMaxPx: 719, top: 719, xEnd: 1365, centers: [1188.3, 1299.3], labelRight: 1115, catX: [1151.3, 1251], catW: [74.7, 95.7], catBase: 910.7,
  step: 10.7, gap: 8, t1x: 1080, t1b: 886.7, t1w: 163.4, t2x: 1097, t2b: 890.7, t2w: 171.4 });
drawScatter({ id: 'scatterVhl', gene: 'VHL', ticks: vhlTicks, series: [vhlNormal, vhlGain], summary: vhlSummary,
  ox: 729, y0: 1084, yMaxPx: 910, top: 910, xEnd: 964, centers: [791.3, 899.7], labelRight: 720, catX: [755.3, 853.3], catW: [72.4, 93.4], catBase: 1105.3,
  step: 12.3, gap: 8, t1x: 685, t1b: 1073.3, t1w: 154, t2x: 701, t2b: 1085, t2w: 175.7 });
drawScatter({ id: 'scatterEpas1', gene: 'EPAS1', ticks: epas1Ticks, series: [epas1Normal, epas1Gain], summary: epas1Summary,
  ox: 1131, y0: 1135, yMaxPx: 974, top: 974, xEnd: 1357, centers: [1191.3, 1295.7], labelRight: 1122.7, catX: [1156.3, 1250.7], catW: [70.4, 91], catBase: 1155,
  step: 11.5, gap: 8, t1x: 1088.5, t1b: 1132.7, t1w: 156.7, t2x: 1104.5, t2b: 1136.7, t2w: 163.4 });

// ----- Vasculogenic mimicry micrograph illustration -----
const vmCellShapes = [[463,420,57,62],[590,395,55,40],[355,455,60,55],[270,468,35,40],[235,545,38,40],[318,535,25,22],[375,560,25,35],[425,505,20,18],[555,525,50,50],[484,548,15,15],[432,578,20,25],[483,615,40,35],[570,615,35,25],[668,595,38,30],[680,470,55,40],[608,455,12,15],[645,537,20,18],[722,533,30,30],[760,472,12,18],[697,403,30,15],[298,612,25,28],[250,633,18,32],[375,670,45,48],[460,692,32,30],[522,697,18,32],[585,700,35,50],[658,672,35,38],[725,625,22,30],[720,692,20,20],[762,618,10,15],[218,712,30,42],[300,725,40,45],[755,730,15,20],[685,755,38,40],[530,770,22,28],[450,770,42,30],[575,782,15,12],[765,772,15,15],[220,380,38,30],[300,378,30,28],[768,395,22,20],[672,362,22,14],[730,362,20,12],[540,355,25,8],[390,795,30,10],[210,500,20,10],[778,680,12,15],[780,530,10,20],[625,360,18,12]];
(function () {
  const g = document.getElementById('vmCells');
  vmCellShapes.forEach(s => {
    const ring = mk(g, 'ellipse', { cx: s[0], cy: s[1], rx: s[2] + 10, ry: s[3] + 10, fill: 'none', stroke: '#7a3aa8', 'stroke-width': 4 });
    
    
  });
  vmCellShapes.forEach(s => {
    const cell = mk(g, 'ellipse', { cx: s[0], cy: s[1], rx: s[2] + 2, ry: s[3] + 2, fill: '#c6c6c6' });
    
    
    const dot = mk(g, 'circle', { cx: s[0], cy: s[1], r: 4, fill: '#55552a' });
    
    
  });
})();
</script>
</body>
</html>
